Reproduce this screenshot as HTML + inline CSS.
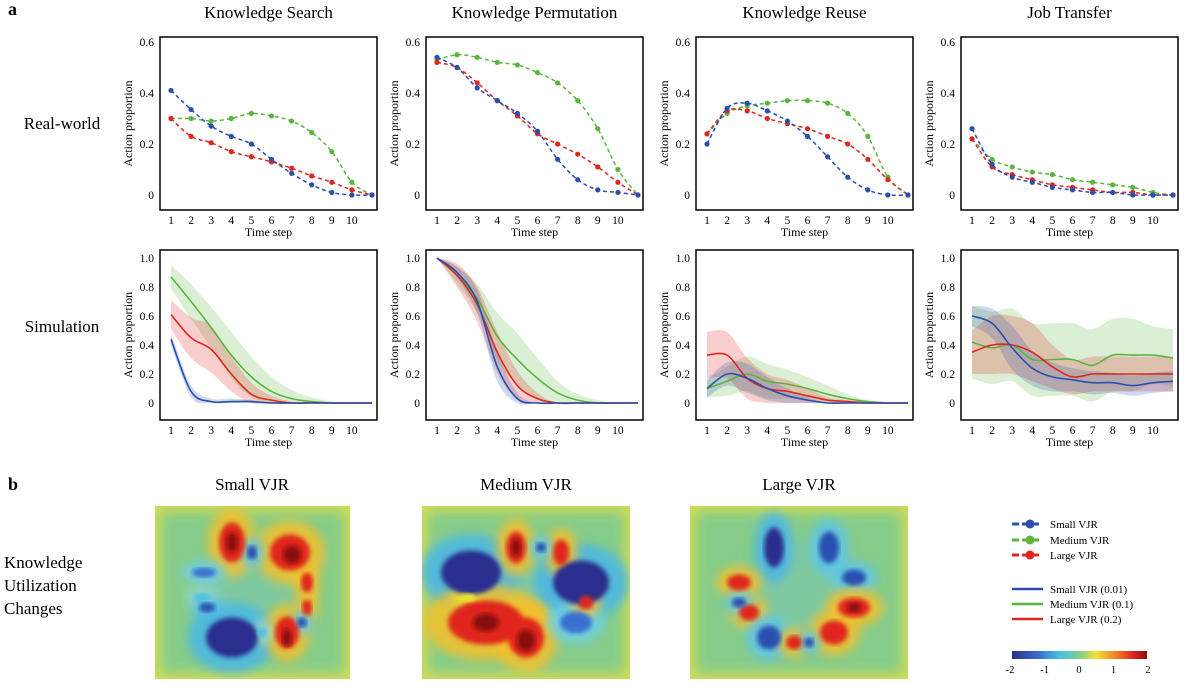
<!DOCTYPE html>
<html><head><meta charset="utf-8"><style>
body{margin:0;background:#fff;width:1200px;height:679px;overflow:hidden;font-family:"Liberation Serif",serif}
svg text{font-family:"Liberation Serif",serif}
</style></head><body>
<svg id="fig" width="1200" height="679" viewBox="0 0 1200 679" xmlns="http://www.w3.org/2000/svg">
<defs>
<filter id="blur" x="-20%" y="-20%" width="140%" height="140%"><feGaussianBlur stdDeviation="6"/></filter>
<filter id="blur2"><feGaussianBlur stdDeviation="2.5"/></filter>
<filter id="blur3" x="-50%" y="-50%" width="200%" height="200%"><feGaussianBlur stdDeviation="5"/></filter>
<linearGradient id="cbar" x1="0" x2="1">
<stop offset="0" stop-color="#2b2f8f"/><stop offset="0.2" stop-color="#3a6fd0"/><stop offset="0.35" stop-color="#49c0e6"/><stop offset="0.5" stop-color="#7fcf8a"/><stop offset="0.62" stop-color="#ece533"/><stop offset="0.78" stop-color="#f07a25"/><stop offset="0.9" stop-color="#dd2222"/><stop offset="1" stop-color="#8a0c0c"/>
</linearGradient>
<clipPath id="c0"><rect x="155" y="506" width="195" height="173"/></clipPath>
<clipPath id="c1"><rect x="422" y="506" width="208" height="173"/></clipPath>
<clipPath id="c2"><rect x="690" y="506" width="218" height="173"/></clipPath>
</defs>
<g id="root"></g>
</svg>
<script>
const NS="http://www.w3.org/2000/svg";
const root=document.getElementById('root');
function el(tag,attrs,parent){const e=document.createElementNS(NS,tag);for(const k in attrs)e.setAttribute(k,attrs[k]);(parent||root).appendChild(e);return e;}
function txt(x,y,s,size,attrs,parent){const t=el('text',Object.assign({x:x,y:y,'font-size':size,fill:'#000'},attrs||{}),parent);t.textContent=s;return t;}

// ---- data ----
const steps=[1,2,3,4,5,6,7,8,9,10,11];
const tickLabels=['1','2','3','4','5','6','7','8','9','10'];
const topYTicks=[0,0.2,0.4,0.6];
const topYLabels=['0','0.2','0.4','0.6'];
const botYTicks=[0,0.2,0.4,0.6,0.8,1.0];
const botYLabels=['0','0.2','0.4','0.6','0.8','1.0'];
const panelTitles=['Knowledge Search','Knowledge Permutation','Knowledge Reuse','Job Transfer'];
const realSmall=[
 [.41,.335,.27,.23,.2,.14,.085,.04,.01,0,0],
 [.54,.5,.42,.37,.32,.25,.14,.06,.02,.01,0],
 [.2,.34,.36,.33,.29,.23,.15,.07,.02,0,0],
 [.26,.12,.07,.05,.03,.02,.01,.01,0,0,0]];
const realMedium=[
 [.3,.3,.29,.3,.32,.31,.29,.245,.17,.05,0],
 [.53,.55,.54,.52,.51,.48,.44,.37,.26,.1,0],
 [.24,.32,.35,.36,.37,.37,.36,.32,.23,.07,0],
 [.22,.14,.11,.09,.08,.06,.05,.04,.03,.01,0]];
const realLarge=[
 [.3,.23,.205,.17,.15,.13,.105,.075,.05,.02,0],
 [.52,.5,.44,.37,.31,.24,.2,.16,.11,.05,0],
 [.24,.33,.33,.3,.28,.26,.23,.2,.14,.06,0],
 [.22,.11,.08,.06,.04,.03,.02,.01,.01,0,0]];
const simSmall=[
 [.44,.08,.01,.01,.01,0,0,0,0,0,0],
 [1,.9,.7,.25,.03,0,0,0,0,0,0],
 [.1,.2,.17,.1,.05,.02,0,0,0,0,0],
 [.6,.55,.38,.24,.18,.16,.14,.14,.12,.14,.15]];
const simMedium=[
 [.87,.7,.52,.33,.18,.08,.03,.01,0,0,0],
 [1,.88,.72,.46,.3,.17,.07,.02,0,0,0],
 [.1,.15,.2,.15,.13,.1,.06,.03,.01,0,0],
 [.42,.38,.4,.3,.3,.3,.26,.33,.33,.33,.31]];
const simLarge=[
 [.61,.45,.37,.2,.06,.02,0,0,0,0,0],
 [1,.88,.68,.35,.12,.03,0,0,0,0,0],
 [.33,.33,.17,.1,.08,.05,.02,.01,0,0,0],
 [.35,.4,.4,.35,.25,.18,.2,.2,.2,.2,.2]];
const simBandSmall=[
 [.04,.04,.02,.02,.01,0,0,0,0,0,0],
 [0,.04,.08,.1,.04,0,0,0,0,0,0],
 [.06,.08,.1,.08,.05,.02,0,0,0,0,0],
 [.07,.1,.15,.12,.1,.08,.08,.07,.07,.07,.07]];
const simBandMedium=[
 [.08,.12,.14,.16,.14,.1,.06,.03,.01,0,0],
 [0,.06,.1,.16,.18,.14,.08,.04,.02,0,0],
 [.06,.1,.12,.12,.1,.08,.06,.03,.01,0,0],
 [.25,.25,.25,.25,.25,.25,.25,.25,.25,.2,.2]];
const simBandLarge=[
 [.1,.14,.16,.12,.08,.03,.01,0,0,0,0],
 [0,.08,.12,.14,.1,.04,0,0,0,0,0],
 [.16,.16,.14,.1,.08,.05,.02,.01,0,0,0],
 [.15,.2,.2,.2,.15,.12,.12,.12,.12,.12,.12]];

const C={s:'#2a4fb0',m:'#5ab53c',r:'#e0261f'};
const panelX=[160,426,696,961];
const panelW=217;
const topCfg={y0:195,y1:42,box:[37,210],ymax:0.6};
const botCfg={y0:403,y1:258,box:[250,420],ymax:1.0};

function xs(p,v){return panelX[p]+11+(v-1)*20.1;}
function ysF(cfg){return v=>cfg.y0-(v/cfg.ymax)*(cfg.y0-cfg.y1);}

function smoothPath(pts){
  let d='M'+pts[0][0].toFixed(1)+','+pts[0][1].toFixed(1);
  for(let i=0;i<pts.length-1;i++){
    const p0=pts[Math.max(0,i-1)],p1=pts[i],p2=pts[i+1],p3=pts[Math.min(pts.length-1,i+2)];
    const c1=[p1[0]+(p2[0]-p0[0])/6,p1[1]+(p2[1]-p0[1])/6];
    const c2=[p2[0]-(p3[0]-p1[0])/6,p2[1]-(p3[1]-p1[1])/6];
    d+=' C'+c1[0].toFixed(1)+','+c1[1].toFixed(1)+' '+c2[0].toFixed(1)+','+c2[1].toFixed(1)+' '+p2[0].toFixed(1)+','+p2[1].toFixed(1);
  }
  return d;
}

function axes(p,cfg,yt,yl,g){
  const ys=ysF(cfg);
  const frame=el('rect',{x:panelX[p],y:cfg.box[0],width:panelW,height:cfg.box[1]-cfg.box[0],fill:'none',stroke:'#000','stroke-width':1.5},g);
  
  
  yt.forEach((v,i)=>{
    const t=txt(panelX[p]-6,ys(v)+4,yl[i],11.5,{'text-anchor':'end'},g);
    
    
  });
  tickLabels.forEach((s,i)=>{
    const t=txt(xs(p,i+1),cfg.box[1]+14,s,11.5,{'text-anchor':'middle'},g);
    
    
  });
  const xt=txt(panelX[p]+panelW/2,cfg.box[1]+26,'Time step',12,{'text-anchor':'middle'},g);
  
  
  const cy=(cfg.box[0]+cfg.box[1])/2;
  const yt2=txt(panelX[p]-28,cy,'Action proportion',12,{'text-anchor':'middle',transform:'rotate(-90 '+(panelX[p]-28)+' '+cy+')'},g);
  
  
}

for(let p=0;p<4;p++){
  const g=el('g',{});
  
  
  const tt=txt(panelX[p]+panelW/2,18,panelTitles[p],17,{'text-anchor':'middle'},g);
  
  
  axes(p,topCfg,topYTicks,topYLabels,g);
  const ys=ysF(topCfg);
  [[realMedium,C.m,'medium'],[realLarge,C.r,'large'],[realSmall,C.s,'small']].forEach(([arr,col,nm])=>{
    const pts=steps.map((s,i)=>[xs(p,s),ys(arr[p][i])]);
    const path=el('path',{d:smoothPath(pts),fill:'none',stroke:col,'stroke-width':1.5,'stroke-dasharray':'4,3'},g);
    
    
    pts.forEach(pt=>{
      const c=el('circle',{cx:pt[0],cy:pt[1],r:2.6,fill:col},g);
      
      
    });
  });
  axes(p,botCfg,botYTicks,botYLabels,g);
  const yb=ysF(botCfg);
  [[simMedium,simBandMedium,C.m,'medium'],[simLarge,simBandLarge,C.r,'large'],[simSmall,simBandSmall,C.s,'small']].forEach(([arr,band,col,nm])=>{
    const up=steps.map((s,i)=>[xs(p,s),yb(Math.min(1,arr[p][i]+band[p][i]))]);
    const lo=steps.map((s,i)=>[xs(p,s),yb(Math.max(0,arr[p][i]-band[p][i]))]).reverse();
    const d=smoothPath(up)+' L'+lo[0][0].toFixed(1)+','+lo[0][1].toFixed(1)+smoothPath(lo).replace(/^M[^ ]+/,'')+' Z';
    const b=el('path',{d:d,fill:col,'fill-opacity':0.22,stroke:'none'},g);
    
    
  });
  [[simMedium,C.m,'medium'],[simLarge,C.r,'large'],[simSmall,C.s,'small']].forEach(([arr,col,nm])=>{
    const pts=steps.map((s,i)=>[xs(p,s),yb(arr[p][i])]);
    const l=el('path',{d:smoothPath(pts),fill:'none',stroke:col,'stroke-width':1.6},g);
    
    
  });
}

[['a',8,15],['b',8,490]].forEach(([s,x,y])=>{
  const t=txt(x,y,s,18,{'font-weight':'bold','font-family':'Liberation Sans, sans-serif'});
  
  
});
[['Real-world',62,129],['Simulation',62,332]].forEach(([s,x,y])=>{
  const t=txt(x,y,s,17,{'text-anchor':'middle'});
  
  
});
['Knowledge','Utilization','Changes'].forEach((s,i)=>{
  const t=txt(4,568+i*23,s,17,{});
  
  
});

const hmTitles=['Small VJR','Medium VJR','Large VJR'];
const hmBox=[[155,506,195,173],[422,506,208,173],[690,506,218,173]];
const hmCX=[252,526,799];
const hmBlobs=[
 [[-20,-50,13,20,'#e0261f'],[-20,-50,6,10,'#8a0c0c'],[38,-40,20,18,'#e0261f'],[40,-38,9,9,'#8a0c0c'],[0,-40,5,7,'#2a4fb0'],[-48,-20,12,5,'#3a6fd0'],[55,-10,6,10,'#e0261f'],[-50,5,8,4,'#49c0e6'],[-45,15,8,5,'#2a4fb0'],[55,15,5,8,'#e0261f'],[-20,45,26,20,'#2b2f8f'],[35,40,12,16,'#e0261f'],[35,45,5,9,'#8a0c0c'],[10,40,5,5,'#49c0e6'],[50,30,5,5,'#2a4fb0']],
 [[-55,-20,30,22,'#2b2f8f'],[55,-10,28,22,'#2b2f8f'],[-40,30,38,22,'#e0261f'],[-40,30,13,9,'#8a0c0c'],[0,45,18,20,'#e0261f'],[0,48,9,11,'#8a0c0c'],[-10,-45,10,16,'#e0261f'],[-10,-45,5,9,'#8a0c0c'],[35,-40,8,13,'#e0261f'],[50,30,16,11,'#3a6fd0'],[60,10,7,7,'#e0261f'],[-58,5,7,4,'#ece533'],[15,-45,5,5,'#2a4fb0']],
 [[-25,-45,10,20,'#2b2f8f'],[30,-45,10,16,'#2a4fb0'],[-60,-10,12,8,'#e0261f'],[55,-15,12,8,'#2a4fb0'],[-50,20,10,8,'#e0261f'],[55,15,16,10,'#e0261f'],[55,15,7,5,'#8a0c0c'],[-30,45,12,12,'#2a4fb0'],[35,40,14,12,'#e0261f'],[-5,50,8,7,'#e0261f'],[10,50,5,5,'#2a4fb0'],[-60,10,7,5,'#2a4fb0']]
];
const haloFor={'#e0261f':'#f5c02a','#8a0c0c':'#e0261f','#2b2f8f':'#49b6e8','#2a4fb0':'#5cc6ec','#3a6fd0':'#6fd0e8','#49c0e6':'#9ad8c8','#ece533':'#ece533'};
hmTitles.forEach((s,i)=>{
  const g=el('g',{'clip-path':'url(#c'+i+')'});
  
  
  const [x,y,w,h]=hmBox[i];
  el('rect',{x:x,y:y,width:w,height:h,fill:'#86cc8a'},g);
  el('rect',{x:x-6,y:y-6,width:w+12,height:h+12,fill:'none',stroke:'#dfe04a','stroke-width':24,filter:'url(#blur)','stroke-opacity':0.8},g);
  el('ellipse',{cx:hmCX[i],cy:y+h/2,rx:w*0.3,ry:h*0.28,fill:'#7fc9a0',filter:'url(#blur)'},g);
  hmBlobs[i].forEach(b=>{
    if(b[4]=='#8a0c0c')return;
    el('ellipse',{cx:hmCX[i]+b[0],cy:y+h/2+b[1],rx:b[2]*1.55+4,ry:b[3]*1.55+4,fill:haloFor[b[4]],filter:'url(#blur3)','fill-opacity':0.85},g);
  });
  hmBlobs[i].forEach(b=>{
    const e=el('ellipse',{cx:hmCX[i]+b[0],cy:y+h/2+b[1],rx:b[2],ry:b[3],fill:b[4],filter:'url(#blur2)'},g);
    
    
  });
  const t=txt(hmCX[i],490,s,17,{'text-anchor':'middle'});
  
  
});

const lg=el('g',{});


[['Small VJR',C.s,524],['Medium VJR',C.m,540],['Large VJR',C.r,555]].forEach(([s,c,y])=>{
  el('line',{x1:1012,y1:y,x2:1040,y2:y,stroke:c,'stroke-width':3,'stroke-dasharray':'7,3'},lg);
  el('circle',{cx:1030,cy:y,r:4.5,fill:c},lg);
  const t=txt(1050,y+4,s,11,{'font-family':'Liberation Sans, sans-serif'},lg);
  
  
});
[['Small VJR (0.01)',C.s,589],['Medium VJR (0.1)',C.m,604],['Large VJR (0.2)',C.r,619]].forEach(([s,c,y])=>{
  el('line',{x1:1012,y1:y,x2:1043,y2:y,stroke:c,'stroke-width':2.5},lg);
  const t=txt(1050,y+4,s,11,{'font-family':'Liberation Sans, sans-serif'},lg);
  
  
});
const cb=el('rect',{x:1012,y:651,width:135,height:8,fill:'url(#cbar)'},lg);


['-2','-1','0','1','2'].forEach((s,i)=>{
  const t=txt(1010+i*34.5,673,s,10.5,{'text-anchor':'middle','font-family':'Liberation Sans, sans-serif'},lg);
  
  
});
</script>
</body></html>
